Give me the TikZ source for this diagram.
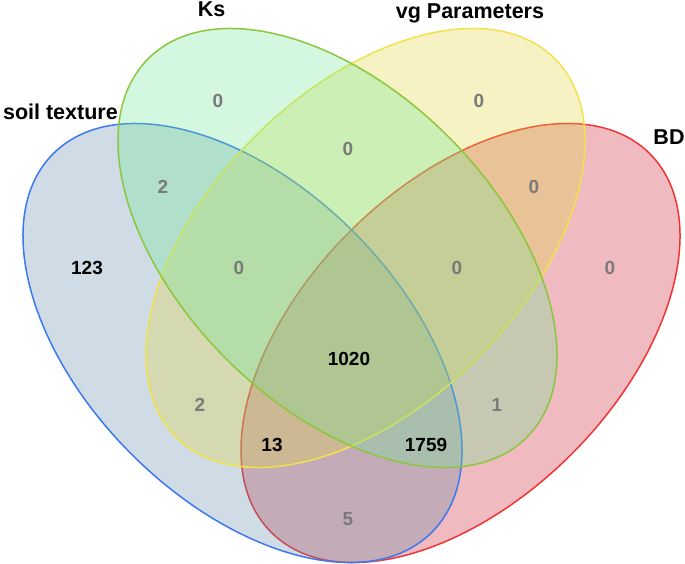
\documentclass[tikz,border=0pt]{standalone}
\usepackage{fontspec}
\setmainfont{Liberation Sans}
\definecolor{fblue}{RGB}{95,138,168}
\definecolor{fgreen}{RGB}{108,232,148}
\definecolor{fyellow}{RGB}{225,212,58}
\definecolor{fred}{RGB}{202,28,45}
\definecolor{lblue}{RGB}{60,120,240}
\definecolor{lgreen}{RGB}{140,198,62}
\definecolor{lyellow}{RGB}{242,226,74}
\definecolor{lred}{RGB}{240,52,52}
\definecolor{numgray}{RGB}{122,122,122}
\tikzset{
  setfill/.style={fill=#1, fill opacity=0.3, draw=none},
  setline/.style={draw=#1, line width=1.5pt},
  setlabel/.style={anchor=base, inner sep=0pt, font=\fontsize{21.5}{21.5}\selectfont\bfseries},
  graynum/.style={inner sep=0pt, text=numgray, font=\fontsize{19}{19}\selectfont\bfseries},
  blacknum/.style={inner sep=0pt, text=black, font=\fontsize{19}{19}\selectfont\bfseries},
}
\begin{document}
\begin{tikzpicture}[x=1pt,y=-1pt]
\useasboundingbox (0,0) rectangle (685,564);
\coordinate (cB) at (242.5,343);
\coordinate (cG) at (337.5,248);
\coordinate (cY) at (365.5,248);
\coordinate (cR) at (460.5,343);
% BD (red)
\path[setfill=fred, rotate around={45:(cR)}] (cR) ellipse [x radius=267.7, y radius=157.1];
\path[setline=lred, rotate around={45:(cR)}] (cR) ellipse [x radius=267.7, y radius=157.1];
% soil texture (blue)
\path[setfill=fblue, rotate around={-45:(cB)}] (cB) ellipse [x radius=267.7, y radius=157.1];
\path[setline=lblue, rotate around={-45:(cB)}] (cB) ellipse [x radius=267.7, y radius=157.1];
% vg Parameters (yellow)
\path[setfill=fyellow, rotate around={45:(cY)}] (cY) ellipse [x radius=267.7, y radius=157.1];
\path[setline=lyellow, rotate around={45:(cY)}] (cY) ellipse [x radius=267.7, y radius=157.1];
% Ks (green)
\path[setfill=fgreen, rotate around={-45:(cG)}] (cG) ellipse [x radius=267.7, y radius=157.1];
\path[setline=lgreen, rotate around={-45:(cG)}] (cG) ellipse [x radius=267.7, y radius=157.1];
% set labels
\node[setlabel] (lsoil) at (60.4,120) {soil texture};
\node[setlabel] (lks) at (211.7,16.7) {Ks};
\node[setlabel] (lvg) at (470,19) {vg Parameters};
\node[setlabel] (lbd) at (669,145) {BD};
% counts
\node[graynum] (n1) at (218,101) {0};
\node[graynum] (n2) at (479,101) {0};
\node[graynum] (n3) at (348,149) {0};
\node[graynum] (n4) at (163,187) {2};
\node[graynum] (n5) at (534,187) {0};
\node[blacknum] (n6) at (87,268) {123};
\node[graynum] (n7) at (239,268) {0};
\node[graynum] (n8) at (457,268) {0};
\node[graynum] (n9) at (610,268) {0};
\node[blacknum] (n10) at (349,358.7) {1020};
\node[graynum] (n11) at (200,405) {2};
\node[graynum] (n12) at (497,405) {1};
\node[blacknum] (n13) at (272,445) {13};
\node[blacknum] (n14) at (426,445) {1759};
\node[graynum] (n15) at (348,519) {5};
\end{tikzpicture}
\end{document}
